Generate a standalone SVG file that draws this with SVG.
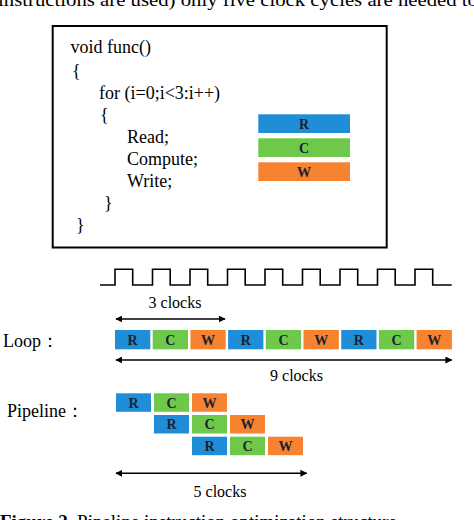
<svg xmlns="http://www.w3.org/2000/svg" width="474" height="520" viewBox="0 0 474 520">
<defs>
<marker id="ah" viewBox="0 0 10 10" refX="9" refY="5" markerWidth="7" markerHeight="7" markerUnits="userSpaceOnUse" orient="auto-start-reverse">
<path d="M0,0 L10,5 L0,10 Z" fill="#000"/>
</marker>
</defs>
<style>
.t{font-family:"Liberation Serif","Times New Roman",serif;fill:#000}
.code{font-size:18px}
.lbl{font-size:16px}
.blk{font-family:"Liberation Serif","Times New Roman",serif;font-weight:bold;font-size:14px;fill:#1a2233;text-anchor:middle}
.R{fill:#208ed6}
.C{fill:#6ec94b}
.W{fill:#f7822f}
.arr{stroke:#000;stroke-width:1.6;fill:none;marker-start:url(#ah);marker-end:url(#ah)}
</style>
<rect width="474" height="520" fill="#fff"/>
<text class="t" x="-2" y="6" font-size="19" textLength="480" lengthAdjust="spacingAndGlyphs">instructions are used) only five clock cycles are needed to</text>

<g id="code-box">
<rect x="52.7" y="26" width="334" height="221.5" fill="#fff" stroke="#000" stroke-width="2"/>
<text class="t code" x="70.5" y="53">void func()</text>
<text class="t code" x="72" y="77">{</text>
<text class="t code" x="99" y="99">for (i=0;i&lt;3:i++)</text>
<text class="t code" x="100" y="121">{</text>
<text class="t code" x="127" y="143">Read;</text>
<text class="t code" x="127" y="165">Compute;</text>
<text class="t code" x="127" y="187">Write;</text>
<text class="t code" x="104" y="209">}</text>
<text class="t code" x="76" y="231">}</text>
</g>

<g id="legend">
<rect class="R" x="258.3" y="114.3" width="91.7" height="18.7"/>
<text class="blk" x="304" y="128.5">R</text>
<rect class="C" x="258.3" y="138.3" width="91.7" height="18.7"/>
<text class="blk" x="304" y="152.5">C</text>
<rect class="W" x="258.3" y="162.3" width="91.7" height="18.7"/>
<text class="blk" x="304" y="176.5">W</text>
</g>

<g id="clock">
<path d="M100,285 H115 V269.3 H132.7 V285 H152.5 V269.3 H170.2 V285 H190 V269.3 H207.7 V285 H227.5 V269.3 H245.2 V285 H265 V269.3 H282.7 V285 H302.5 V269.3 H320.2 V285 H340 V269.3 H357.7 V285 H377.5 V269.3 H395.2 V285 H415 V269.3 H432.7 V285 H451.7" fill="none" stroke="#000" stroke-width="1.6"/>
</g>

<g id="loop-label"><text class="t" x="3" y="347" font-size="18">Loop：</text></g>
<g id="pipeline-label"><text class="t" x="7" y="417" font-size="18">Pipeline：</text></g>

<g id="loop-row">
<rect class="R" x="115" y="330" width="35.3" height="19.3"/><text class="blk" x="132.65" y="344.5">R</text>
<rect class="C" x="152.7" y="330" width="35.3" height="19.3"/><text class="blk" x="170.35" y="344.5">C</text>
<rect class="W" x="190.4" y="330" width="35.3" height="19.3"/><text class="blk" x="208.05" y="344.5">W</text>
<rect class="R" x="228.1" y="330" width="35.3" height="19.3"/><text class="blk" x="245.75" y="344.5">R</text>
<rect class="C" x="265.8" y="330" width="35.3" height="19.3"/><text class="blk" x="283.45" y="344.5">C</text>
<rect class="W" x="303.5" y="330" width="35.3" height="19.3"/><text class="blk" x="321.15" y="344.5">W</text>
<rect class="R" x="341.2" y="330" width="35.3" height="19.3"/><text class="blk" x="358.85" y="344.5">R</text>
<rect class="C" x="378.9" y="330" width="35.3" height="19.3"/><text class="blk" x="396.55" y="344.5">C</text>
<rect class="W" x="416.6" y="330" width="35.3" height="19.3"/><text class="blk" x="434.25" y="344.5">W</text>
</g>

<g id="pipeline-rows">
<rect class="R" x="116" y="393.3" width="35" height="18.5"/><text class="blk" x="133.5" y="407.5">R</text>
<rect class="C" x="154" y="393.3" width="35" height="18.5"/><text class="blk" x="171.5" y="407.5">C</text>
<rect class="W" x="192" y="393.3" width="35" height="18.5"/><text class="blk" x="209.5" y="407.5">W</text>
<rect class="R" x="154" y="415" width="35" height="18.5"/><text class="blk" x="171.5" y="429.2">R</text>
<rect class="C" x="192" y="415" width="35" height="18.5"/><text class="blk" x="209.5" y="429.2">C</text>
<rect class="W" x="230" y="415" width="35" height="18.5"/><text class="blk" x="247.5" y="429.2">W</text>
<rect class="R" x="192" y="436.7" width="35" height="18.5"/><text class="blk" x="209.5" y="450.9">R</text>
<rect class="C" x="230" y="436.7" width="35" height="18.5"/><text class="blk" x="247.5" y="450.9">C</text>
<rect class="W" x="268" y="436.7" width="35" height="18.5"/><text class="blk" x="285.5" y="450.9">W</text>
</g>

<g id="connectors">
<line class="arr" x1="116" y1="319" x2="225" y2="319"/>
<line class="arr" x1="116" y1="360" x2="451.7" y2="360"/>
<line class="arr" x1="116" y1="473.3" x2="306.7" y2="473.3"/>
</g>
<g id="span-labels">
<text class="t lbl" x="175" y="308.3" text-anchor="middle">3 clocks</text>
<text class="t lbl" x="296.5" y="380.7" text-anchor="middle">9 clocks</text>
<text class="t lbl" x="220" y="496.7" text-anchor="middle">5 clocks</text>
</g>

<text class="t" x="0" y="528" font-size="18" textLength="397" lengthAdjust="spacingAndGlyphs"><tspan font-weight="bold">Figure 2.</tspan> Pipeline instruction optimization structure</text>
</svg>
